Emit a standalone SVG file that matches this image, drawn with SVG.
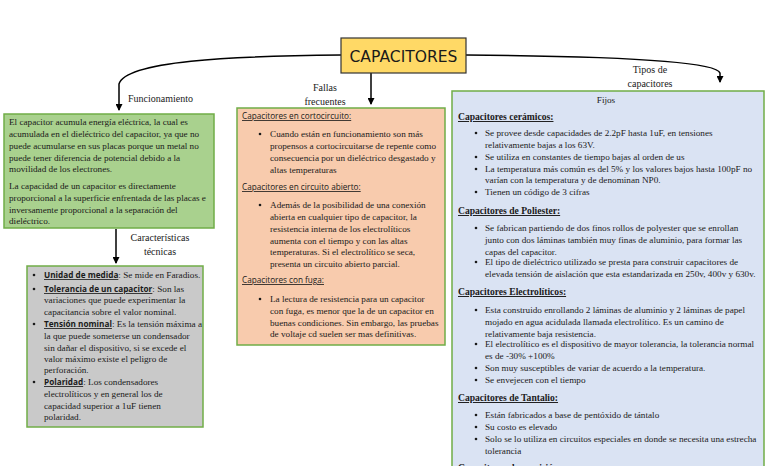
<svg xmlns="http://www.w3.org/2000/svg" width="768" height="466" viewBox="0 0 768 466">
<defs>
<marker id="ah" markerWidth="8" markerHeight="8" refX="4" refY="7" orient="auto-start-reverse" markerUnits="userSpaceOnUse" viewBox="0 0 8 8">
<path d="M0,0 L8,0 L4,7 Z" fill="#000" transform="rotate(-90 4 4)"/>
</marker>
<marker id="arr" markerWidth="7" markerHeight="7" refX="6" refY="3.5" orient="auto" markerUnits="userSpaceOnUse">
<path d="M0,0 L7,3.5 L0,7 Z" fill="#000"/>
</marker>
<style>
.t{font-family:"Liberation Serif","Times New Roman",serif;font-size:9.2px;fill:#1a1a1a}
.lb{font-family:"Liberation Serif","Times New Roman",serif;font-size:10px;fill:#1a1a1a}
.h{font-family:"Liberation Serif","Times New Roman",serif;font-size:9.6px;font-weight:bold;text-decoration:underline;fill:#1a1a1a}
.hs{font-family:"Open Sans","Liberation Sans",sans-serif;font-size:8.2px;text-decoration:underline;fill:#1a1a1a}
.hb{font-family:"Open Sans","Liberation Sans",sans-serif;font-size:8.2px;font-weight:bold;text-decoration:underline;fill:#1a1a1a}
.box{stroke:#70AD47;stroke-width:1.5}
.con{fill:none;stroke:#000;stroke-width:1.5}
.bul{fill:#1a1a1a}
</style>
</defs>
<rect width="768" height="466" fill="#fff"/>

<g id="connectors">
<path class="con" d="M341,55 C230,56 126,61 119,84 L119,110" marker-end="url(#arr)"/>
<path class="con" d="M466,55 C600,56 716,60 720,73 L720,82" marker-end="url(#arr)"/>
<path class="con" d="M371,73 L371,104" marker-end="url(#arr)"/>
<path class="con" d="M116,229 L116,263" marker-end="url(#arr)"/>
<text class="lb" x="128" y="102">Funcionamiento</text>
<text class="lb" x="325" y="91" text-anchor="middle">Fallas</text>
<text class="lb" x="325" y="105" text-anchor="middle">frecuentes</text>
<text class="lb" x="650" y="73" text-anchor="middle">Tipos de</text>
<text class="lb" x="650" y="87" text-anchor="middle">capacitores</text>
<text class="lb" x="160" y="241" text-anchor="middle">Características</text>
<text class="lb" x="160" y="255" text-anchor="middle">técnicas</text>
</g>

<g id="title">
<rect x="341" y="38" width="125" height="35" fill="#FFD966" stroke="#333" stroke-width="1.2"/>
<text x="403.5" y="62" text-anchor="middle" font-family="DejaVu Sans, sans-serif" font-size="15.5" textLength="108" lengthAdjust="spacingAndGlyphs" fill="#1a1a1a">CAPACITORES</text>
</g>

<g id="funcionamiento">
<rect class="box" x="4" y="114" width="210" height="114" fill="#A9D18E"/>
<text class="t" x="9" y="125">El capacitor acumula energía eléctrica, la cual es</text>
<text class="t" x="9" y="137">acumulada en el dieléctrico del capacitor, ya que no</text>
<text class="t" x="9" y="149">puede acumularse en sus placas porque un metal no</text>
<text class="t" x="9" y="161">puede tener diferencia de potencial debido a la</text>
<text class="t" x="9" y="172">movilidad de los electrones.</text>
<text class="t" x="9" y="189">La capacidad de un capacitor es directamente</text>
<text class="t" x="9" y="201">proporcional a la superficie enfrentada de las placas e</text>
<text class="t" x="9" y="213">inversamente proporcional a la separación del</text>
<text class="t" x="9" y="224">dieléctrico.</text>
</g>

<g id="caracteristicas">
<rect class="box" x="27" y="266" width="176" height="161" fill="#C9C9C9"/>
<circle class="bul" cx="34" cy="275" r="1.3"/>
<text class="t" x="44" y="278"><tspan class="hb">Unidad de medida</tspan>: Se mide en Faradios.</text>
<circle class="bul" cx="34" cy="289" r="1.3"/>
<text class="t" x="44" y="292"><tspan class="hb">Tolerancia de un capacitor</tspan>: Son las</text>
<text class="t" x="44" y="303">variaciones que puede experimentar la</text>
<text class="t" x="44" y="315">capacitancia sobre el valor nominal.</text>
<circle class="bul" cx="34" cy="324" r="1.3"/>
<text class="t" x="44" y="327"><tspan class="hb">Tensión nominal</tspan>: Es la tensión máxima a</text>
<text class="t" x="44" y="339">la que puede someterse un condensador</text>
<text class="t" x="44" y="351">sin dañar el dispositivo, si se excede el</text>
<text class="t" x="44" y="362">valor máximo existe el peligro de</text>
<text class="t" x="44" y="373">perforación.</text>
<circle class="bul" cx="34" cy="382" r="1.3"/>
<text class="t" x="44" y="385"><tspan class="hb">Polaridad</tspan>: Los condensadores</text>
<text class="t" x="44" y="397">electrolíticos y en general los de</text>
<text class="t" x="44" y="409">capacidad superior a 1uF tienen</text>
<text class="t" x="44" y="420">polaridad.</text>
</g>

<g id="fallas">
<rect class="box" x="237" y="108" width="208" height="237" fill="#F8CBAD"/>
<text class="hs" x="242" y="119">Capacitores en cortocircuito:</text>
<circle class="bul" cx="260" cy="134" r="1.3"/>
<text class="t" x="270" y="137">Cuando están en funcionamiento son más</text>
<text class="t" x="270" y="149">propensos a cortocircuitarse de repente como</text>
<text class="t" x="270" y="161">consecuencia por un dieléctrico desgastado y</text>
<text class="t" x="270" y="173">altas temperaturas</text>
<text class="hs" x="242" y="190">Capacitores en circuito abierto:</text>
<circle class="bul" cx="260" cy="205" r="1.3"/>
<text class="t" x="270" y="208">Además de la posibilidad de una conexión</text>
<text class="t" x="270" y="220">abierta en cualquier tipo de capacitor, la</text>
<text class="t" x="270" y="232">resistencia interna de los electrolíticos</text>
<text class="t" x="270" y="244">aumenta con el tiempo y con las altas</text>
<text class="t" x="270" y="255">temperaturas. Si el electrolítico se seca,</text>
<text class="t" x="270" y="267">presenta un circuito abierto parcial.</text>
<text class="hs" x="242" y="283">Capacitores con fuga:</text>
<circle class="bul" cx="260" cy="299" r="1.3"/>
<text class="t" x="270" y="302">La lectura de resistencia para un capacitor</text>
<text class="t" x="270" y="314">con fuga, es menor que la de un capacitor en</text>
<text class="t" x="270" y="326">buenas condiciones. Sin embargo, las pruebas</text>
<text class="t" x="270" y="337">de voltaje cd suelen ser mas definitivas.</text>
</g>

<g id="tipos">
<rect class="box" x="452" y="91" width="312" height="385" fill="#DAE3F3"/>
<text class="t" x="606" y="103" text-anchor="middle">Fijos</text>
<text class="h" x="458" y="120">Capacitores cerámicos:</text>
<circle class="bul" cx="476" cy="133" r="1.3"/>
<text class="t" x="485" y="136">Se provee desde capacidades de 2.2pF hasta 1uF, en tensiones</text>
<text class="t" x="485" y="148">relativamente bajas a los 63V.</text>
<circle class="bul" cx="476" cy="157" r="1.3"/>
<text class="t" x="485" y="160">Se utiliza en constantes de tiempo bajas al orden de us</text>
<circle class="bul" cx="476" cy="169" r="1.3"/>
<text class="t" x="485" y="172">La temperatura más común es del 5% y los valores bajos hasta 100pF no</text>
<text class="t" x="485" y="183">varían con la temperatura y de denominan NP0.</text>
<circle class="bul" cx="476" cy="192" r="1.3"/>
<text class="t" x="485" y="195">Tienen un código de 3 cifras</text>
<text class="h" x="458" y="214">Capacitores de Poliester:</text>
<circle class="bul" cx="476" cy="228" r="1.3"/>
<text class="t" x="485" y="231">Se fabrican partiendo de dos finos rollos de polyester que se enrollan</text>
<text class="t" x="485" y="243">junto con dos láminas también muy finas de aluminio, para formar las</text>
<text class="t" x="485" y="255">capas del capacitor.</text>
<circle class="bul" cx="476" cy="262" r="1.3"/>
<text class="t" x="485" y="265">El tipo de dieléctrico utilizado se presta para construir capacitores de</text>
<text class="t" x="485" y="277">elevada tensión de aislación que esta estandarizada en 250v, 400v y 630v.</text>
<text class="h" x="458" y="295">Capacitores Electrolíticos:</text>
<circle class="bul" cx="476" cy="310" r="1.3"/>
<text class="t" x="485" y="313">Esta construido enrollando 2 láminas de aluminio y 2 láminas de papel</text>
<text class="t" x="485" y="325">mojado en agua acidulada llamada electrolítico. Es un camino de</text>
<text class="t" x="485" y="337">relativamente baja resistencia.</text>
<circle class="bul" cx="476" cy="344" r="1.3"/>
<text class="t" x="485" y="347">El electrolítico es el dispositivo de mayor tolerancia, la tolerancia normal</text>
<text class="t" x="485" y="359">es de -30% +100%</text>
<circle class="bul" cx="476" cy="368" r="1.3"/>
<text class="t" x="485" y="371">Son muy susceptibles de variar de acuerdo a la temperatura.</text>
<circle class="bul" cx="476" cy="380" r="1.3"/>
<text class="t" x="485" y="383">Se envejecen con el tiempo</text>
<text class="h" x="458" y="401">Capacitores de Tantalio:</text>
<circle class="bul" cx="476" cy="415" r="1.3"/>
<text class="t" x="485" y="418">Están fabricados a base de pentóxido de tántalo</text>
<circle class="bul" cx="476" cy="427" r="1.3"/>
<text class="t" x="485" y="430">Su costo es elevado</text>
<circle class="bul" cx="476" cy="439" r="1.3"/>
<text class="t" x="485" y="442">Solo se lo utiliza en circuitos especiales en donde se necesita una estrecha</text>
<text class="t" x="485" y="454">tolerancia</text>
<text class="h" x="458" y="471">Capacitores de precisión:</text>
</g>
</svg>
